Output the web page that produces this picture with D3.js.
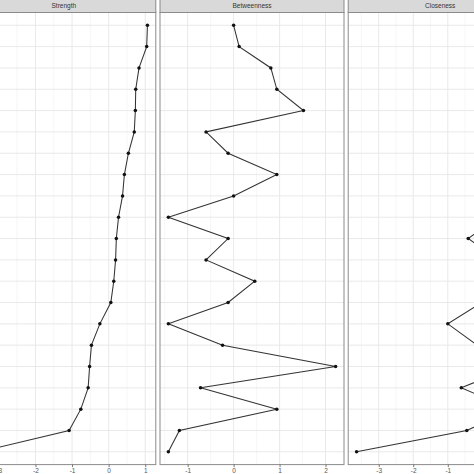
<!DOCTYPE html>
<html>
<head>
<meta charset="utf-8">
<script src="https://cdn.jsdelivr.net/npm/d3@7"></script>
<style>
  html, body { margin: 0; padding: 0; background: #fff; overflow: hidden; }
  svg { display: block; font-family: "Liberation Sans", Arial, sans-serif; }
</style>
</head>
<body>
<svg id="chart" width="474" height="474"></svg>
<script>
// nodes, top to bottom (axis labels fall outside the cropped frame)
const nodes = ["N1", "N2", "N3", "N4", "N5", "N6", "N7", "N8", "N9", "N10", "N11",
               "N12", "N13", "N14", "N15", "N16", "N17", "N18", "N19", "N20", "N21"];

const measures = ["Strength", "Betweenness", "Closeness"];

const strength = [1.06, 1.04, 0.83, 0.74, 0.73, 0.70, 0.54, 0.43, 0.38, 0.27, 0.21,
                  0.19, 0.14, 0.06, -0.24, -0.47, -0.52, -0.56, -0.76, -1.08, -3.51];
const betweenness = [0.00, 0.12, 0.81, 0.94, 1.52, -0.60, -0.12, 0.94, 0.00, -1.42, -0.12,
                     -0.60, 0.46, -0.12, -1.42, -0.24, 2.22, -0.72, 0.94, -1.18, -1.42];
const closeness = [0.30, 0.60, 0.10, 0.80, 0.50, 1.20, 0.20, 0.70, 0.40, 0.45, -0.41,
                   0.45, 0.90, -0.02, -1.00, -0.15, 0.88, -0.61, 0.85, -0.45, -3.64];

const seriesValues = [strength, betweenness, closeness];

// layout (the original figure is cropped on both sides)
const W = 474;
const panelW = 184, gap = 4.2;
const firstLeft = 160 - gap - panelW;
const stripTop = 0, stripH = 12.5;
const panelTop = stripTop + stripH, panelBottom = 464.6;

const svg = d3.select("#chart");

const y = d3.scalePoint()
    .domain(nodes)
    .range([panelTop, panelBottom])
    .padding(0.6);

measures.forEach((name, k) => {
    const vals = seriesValues[k];
    const left = firstLeft + k * (panelW + gap);
    const ext = d3.extent(vals);
    const pad = (ext[1] - ext[0]) * 0.05;
    const x = d3.scaleLinear()
        .domain([ext[0] - pad, ext[1] + pad])
        .range([left, left + panelW]);

    const g = svg.append("g").attr("class", "panel");

    g.append("rect")
        .attr("x", left).attr("y", panelTop)
        .attr("width", panelW).attr("height", panelBottom - panelTop)
        .attr("fill", "#fff");

    const major = d3.range(Math.ceil(x.domain()[0]), Math.floor(x.domain()[1]) + 1);
    const minor = d3.range(Math.ceil(x.domain()[0] * 2) / 2, x.domain()[1], 0.5)
        .filter(v => !Number.isInteger(v));

    g.selectAll(".minor").data(minor).enter().append("line")
        .attr("x1", d => x(d)).attr("x2", d => x(d))
        .attr("y1", panelTop).attr("y2", panelBottom)
        .attr("stroke", "#f0f0f0").attr("stroke-width", 0.6);

    g.selectAll(".hgrid").data(nodes).enter().append("line")
        .attr("x1", left).attr("x2", left + panelW)
        .attr("y1", d => y(d)).attr("y2", d => y(d))
        .attr("stroke", "#e6e6e6").attr("stroke-width", 0.9);

    g.selectAll(".major").data(major).enter().append("line")
        .attr("x1", d => x(d)).attr("x2", d => x(d))
        .attr("y1", panelTop).attr("y2", panelBottom)
        .attr("stroke", "#e6e6e6").attr("stroke-width", 0.9);

    const pts = nodes.map((n, i) => [x(vals[i]), y(n)]);

    g.append("path")
        .attr("d", d3.line()(pts))
        .attr("fill", "none")
        .attr("stroke", "#333")
        .attr("stroke-width", 1.05);

    g.selectAll(".pt").data(pts).enter().append("circle")
        .attr("cx", d => d[0]).attr("cy", d => d[1])
        .attr("r", 1.75).attr("fill", "#111");

    g.append("rect")
        .attr("x", left).attr("y", panelTop)
        .attr("width", panelW).attr("height", panelBottom - panelTop)
        .attr("fill", "none").attr("stroke", "#8a8a8a").attr("stroke-width", 1);

    // strip
    g.append("rect")
        .attr("x", left).attr("y", stripTop - 1)
        .attr("width", panelW).attr("height", stripH + 1)
        .attr("fill", "#d9d9d9").attr("stroke", "#8a8a8a").attr("stroke-width", 1);
    g.append("text")
        .attr("x", left + panelW / 2).attr("y", stripTop + stripH / 2 + 0.5)
        .attr("text-anchor", "middle").attr("dominant-baseline", "middle")
        .attr("font-size", 6.5).attr("fill", "#333")
        .text(name);

    // x axis, only the ticks that can reach the frame
    const axis = d3.axisBottom(x)
        .tickValues(major.filter(v => x(v) < W))
        .tickSize(2.5)
        .tickPadding(1.5)
        .tickFormat(d => d < 0 ? "-" + Math.abs(d) : String(d));
    const ax = svg.append("g")
        .attr("transform", `translate(0,${panelBottom})`)
        .call(axis);
    ax.select(".domain").remove();
    ax.selectAll(".tick line").attr("stroke", "#555").attr("stroke-width", 0.8);
    ax.selectAll(".tick text")
        .attr("font-size", 6.5)
        .attr("fill", "#555")
        .attr("font-family", "Liberation Sans, Arial, sans-serif");
});
</script>
</body>
</html>
